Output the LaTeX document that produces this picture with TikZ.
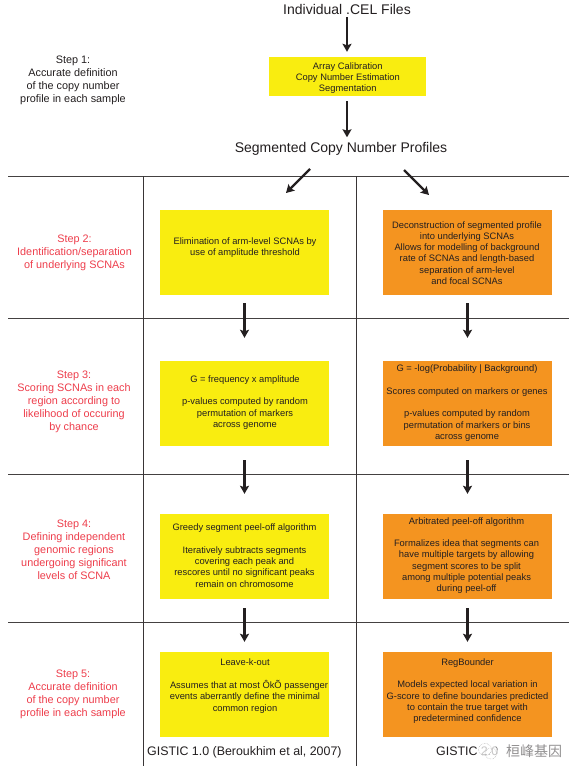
\documentclass[tikz,border=0pt]{standalone}
\usepackage{fontspec}
\setmainfont{Liberation Sans}
\newfontfamily\cjkwm{Noto Sans CJK SC}
\usetikzlibrary{arrows.meta}
\definecolor{boxyellow}{HTML}{F9ED10}
\definecolor{boxorange}{HTML}{F49420}
\definecolor{stepred}{HTML}{EE3E4C}
\definecolor{inkdark}{HTML}{231F20}
\tikzset{
 x=1pt,y=-1pt,
 rowline/.style={draw=inkdark!85,line width=0.9pt},
 colline/.style={draw=inkdark!90,line width=0.9pt},
 flow/.style={draw=inkdark,line width=2.2pt,-{Stealth[length=8pt,width=9pt,inset=1.5pt]}},
 ybox/.style={fill=boxyellow,draw=none,inner sep=0pt},
 obox/.style={fill=boxorange,draw=none,inner sep=0pt},
 boxtext/.style={font=\fontsize{9.35}{11.3}\selectfont,align=center,inner sep=0pt,text=inkdark},
 steptext/.style={font=\fontsize{10.85}{13}\selectfont,align=center,inner sep=0pt},
 title/.style={font=\fontsize{14}{16}\selectfont,inner sep=0pt,text=inkdark},
 caption/.style={font=\fontsize{12.4}{14}\selectfont,inner sep=0pt,text=inkdark,anchor=west},
 wmicon/.style={draw=inkdark!35,line width=0.5pt,densely dotted},
}
\newcommand{\mkbox}[6]{\node[#2,minimum width=#5 pt-#3 pt,minimum height=#6 pt-#4 pt] (#1) at ({(#3+#5)/2},{(#4+#6)/2}) {};}
\begin{document}
\begin{tikzpicture}
\useasboundingbox (0,0) rectangle (580,776);
\fill[white] (0,0) rectangle (580,776);
% grid
\coordinate (h1a) at (8,176); \coordinate (h1b) at (569,176);
\coordinate (h2a) at (8,318); \coordinate (h2b) at (569,318);
\coordinate (h3a) at (8,474); \coordinate (h3b) at (569,474);
\coordinate (h4a) at (8,622); \coordinate (h4b) at (569,622);
\coordinate (v1a) at (143,176); \coordinate (v1b) at (143,766);
\coordinate (v2a) at (356,176); \coordinate (v2b) at (356,766);
\draw[rowline] (h1a)--(h1b); \draw[rowline] (h2a)--(h2b);
\draw[rowline] (h3a)--(h3b); \draw[rowline] (h4a)--(h4b);
\draw[colline] (v1a)--(v1b); \draw[colline] (v2a)--(v2b);
% boxes
\mkbox{top}{ybox}{269}{57}{426}{96}
\mkbox{la}{ybox}{160}{210}{329}{295}
\mkbox{ra}{obox}{383}{210}{552}{295}
\mkbox{lb}{ybox}{160}{361}{329}{446}
\mkbox{rb}{obox}{383}{361}{552}{446}
\mkbox{lc}{ybox}{160}{514}{329}{599}
\mkbox{rc}{obox}{383}{514}{552}{599}
\mkbox{ld}{ybox}{160}{652}{329}{737}
\mkbox{rd}{obox}{383}{652}{552}{737}
% titles
\node[title] (cel) at (347,9) {Individual .CEL Files};
\node[title] (seg) at (341,149) {Segmented Copy Number Profiles};
\node[boxtext] at (347.8,78) {Array Calibration\\Copy Number Estimation\\Segmentation};
% box text
\node[boxtext] at (245,247.5) {Elimination of arm-level SCNAs by\\use of amplitude threshold};
\node[boxtext] at (467,253) {Deconstruction of segmented profile\\into underlying SCNAs\\Allows for modelling of background\\rate of SCNAs and length-based\\separation of arm-level\\and focal SCNAs};
\node[boxtext] at (245,402.5) {G = frequency x amplitude\\[11.3pt]p-values computed by random\\permutation of markers\\across genome};
\node[boxtext] at (467,403) {G = -log(Probability \textbar{} Background)\\[11.3pt]Scores computed on markers or genes\\[11.3pt]p-values computed by random\\permutation of markers or bins\\across genome};
\node[boxtext] at (244.5,555.5) {Greedy segment peel-off algorithm\\[11.3pt]Iteratively subtracts segments\\covering each peak and\\rescores until no significant peaks\\remain on chromosome};
\node[boxtext] at (466.5,555.5) {Arbitrated peel-off algorithm\\[11.3pt]Formalizes idea that segments can\\have multiple targets by allowing\\segment scores to be split\\among multiple potential peaks\\during peel-off};
\node[boxtext] at (245,686) {Leave-k-out\\[11.3pt]\hspace*{8pt}Assumes that at most ÔkÕ passenger\\events aberrantly define the minimal\\common region};
\node[boxtext] at (467.5,691) {RegBounder\\[11.3pt]Models expected local variation in\hspace*{3pt}\\G-score to define boundaries predicted\\to contain the true target with\\predetermined confidence};
% steps
\node[steptext,text=inkdark] (s1) at (73,80.5) {Step 1:\\Accurate definition\\of the copy number\\profile in each sample};
\node[steptext,text=stepred] (s2) at (74.5,253) {Step 2:\\Identification/separation\\of underlying SCNAs};
\node[steptext,text=stepred] (s3) at (74,402) {Step 3:\\Scoring SCNAs in each\\region according to\\likelihood of occuring\\by chance};
\node[steptext,text=stepred] (s4) at (74,549.5) {Step 4:\\Defining independent\\genomic regions\\undergoing significant\\levels of SCNA};
\node[steptext,text=stepred] (s5) at (73,694.5) {Step 5:\\Accurate definition\\of the copy number\\profile in each sample};
% arrows
\coordinate (dl) at (286,193); \coordinate (dr) at (429,195);
\coordinate (sl) at (310,169); \coordinate (sr) at (404,170);
\draw[flow,shorten <=3pt,shorten >=5pt] (cel) -- (cel |- top.north);
\draw[flow,shorten <=5pt,shorten >=5pt] (cel |- top.south) -- (cel |- seg.north);
\draw[flow] (sl) -- (dl);
\draw[flow] (sr) -- (dr);
\draw[flow,shorten <=8pt,shorten >=23pt] (la) -- (lb);
\draw[flow,shorten <=8pt,shorten >=23pt] (ra) -- (rb);
\draw[flow,shorten <=14pt,shorten >=20pt] (lb) -- (lc);
\draw[flow,shorten <=14pt,shorten >=20pt] (rb) -- (rc);
\draw[flow,shorten <=9pt,shorten >=10pt] (lc) -- (ld);
\draw[flow,shorten <=9pt,shorten >=10pt] (rc) -- (rd);
% captions
\node[caption] (g1) at (147,752.5) {GISTIC 1.0 (Beroukhim et al, 2007)};
\node[caption] (g2) at (436,751) {GISTIC 2.0};
% watermark
\fill[white,opacity=0.75] (488,751.5) ellipse [x radius=10,y radius=8];
\draw[wmicon] (485,749.5) ellipse [x radius=6.5,y radius=6];
\draw[wmicon] (491,753.5) ellipse [x radius=6,y radius=5.5];
\node[font=\cjkwm\fontsize{14}{14}\selectfont,text=inkdark!50,inner sep=0pt] (wm) at (534,751) {桓峰基因};
\end{tikzpicture}
\end{document}
